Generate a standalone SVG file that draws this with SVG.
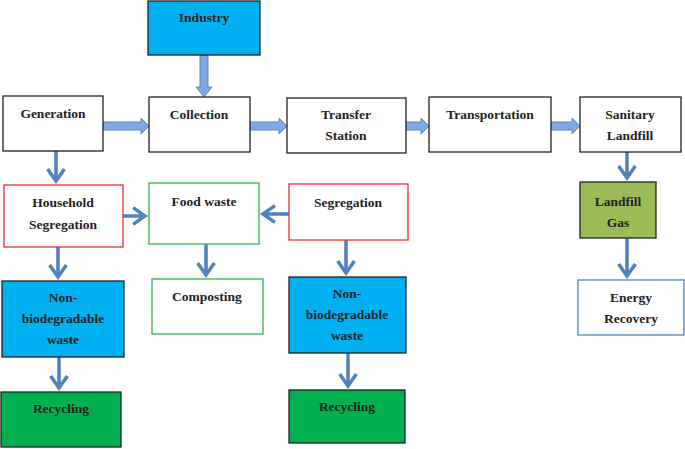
<svg xmlns="http://www.w3.org/2000/svg" width="685" height="449" viewBox="0 0 685 449">
<style>
text{font-family:"Liberation Serif","Times New Roman",serif;font-size:13.5px;font-weight:bold;fill:#222;text-anchor:middle}
.b{fill:#fff;stroke:#222;stroke-width:1.3}
.r{fill:#fff;stroke:#e83030;stroke-width:1.3}
.g{fill:#fff;stroke:#2fb34a;stroke-width:1.3}
.bl{fill:#00b0f0;stroke:#222;stroke-width:1.3}
.gr{fill:#00b050;stroke:#222;stroke-width:1.3}
.ol{fill:#9bbb59;stroke:#222;stroke-width:1.3}
.eb{fill:#fff;stroke:#4a86c8;stroke-width:1.3}
.ba{fill:#7fa9e0;stroke:#5a86c4;stroke-width:1}
.la{stroke:#4f81bd;stroke-width:3.5;fill:none}
</style>
<defs>
<marker id="h" markerWidth="6" markerHeight="6" refX="4" refY="3" orient="auto" markerUnits="strokeWidth"><path d="M0.6,0.6 L4,3 L0.6,5.4" fill="none" stroke="#4f81bd" stroke-width="1"/></marker>
</defs>
<g id="connectors">
<path class="ba" d="M200,55 h8 v32 h4 l-8,10 l-8,-10 h4 z"/>
<path class="ba" d="M103,122 h38 v-4 l8,8 l-8,8 v-4 h-38 z"/>
<path class="ba" d="M250,122 h29 v-4 l8,8 l-8,8 v-4 h-29 z"/>
<path class="ba" d="M406,122 h15 v-4 l8,8 l-8,8 v-4 h-15 z"/>
<path class="ba" d="M551,122 h21 v-4 l8,8 l-8,8 v-4 h-21 z"/>
<line class="la" x1="56" y1="151" x2="56" y2="181" marker-end="url(#h)"/>
<line class="la" x1="123" y1="216" x2="145" y2="216" marker-end="url(#h)"/>
<line class="la" x1="289" y1="214" x2="263" y2="214" marker-end="url(#h)"/>
<line class="la" x1="58" y1="247" x2="58" y2="277" marker-end="url(#h)"/>
<line class="la" x1="206" y1="244" x2="206" y2="275" marker-end="url(#h)"/>
<line class="la" x1="346" y1="240" x2="346" y2="273" marker-end="url(#h)"/>
<line class="la" x1="59" y1="357" x2="59" y2="388" marker-end="url(#h)"/>
<line class="la" x1="348" y1="353" x2="348" y2="386" marker-end="url(#h)"/>
<line class="la" x1="627" y1="152" x2="627" y2="178" marker-end="url(#h)"/>
<line class="la" x1="627" y1="238" x2="627" y2="276" marker-end="url(#h)"/>
</g>
<g id="industry"><rect class="bl" x="148" y="1" width="112" height="54"/><text x="204" y="22">Industry</text></g>
<g id="generation"><rect class="b" x="3" y="96" width="100" height="55"/><text x="53" y="118">Generation</text></g>
<g id="collection"><rect class="b" x="149" y="97" width="101" height="55"/><text x="199" y="119">Collection</text></g>
<g id="transfer"><rect class="b" x="287" y="98" width="119" height="55"/><text x="346" y="119">Transfer</text><text x="346" y="140">Station</text></g>
<g id="transportation"><rect class="b" x="429" y="97" width="122" height="55"/><text x="490" y="119">Transportation</text></g>
<g id="sanitary"><rect class="b" x="580" y="97" width="101" height="55"/><text x="630" y="119">Sanitary</text><text x="630" y="140">Landfill</text></g>
<g id="household"><rect class="r" x="4" y="185" width="119" height="62"/><text x="63" y="207">Household</text><text x="63" y="229">Segregation</text></g>
<g id="foodwaste"><rect class="g" x="149" y="183" width="110" height="61"/><text x="204" y="206">Food waste</text></g>
<g id="segregation"><rect class="r" x="289" y="184" width="119" height="56"/><text x="348" y="207">Segregation</text></g>
<g id="landfillgas"><rect class="ol" x="580" y="182" width="76" height="56"/><text x="618" y="206">Landfill</text><text x="618" y="227">Gas</text></g>
<g id="nonbio1"><rect class="bl" x="2" y="281" width="122" height="76"/><text x="63" y="302">Non-</text><text x="63" y="323">biodegradable</text><text x="63" y="344">waste</text></g>
<g id="composting"><rect class="g" x="152" y="279" width="111" height="55"/><text x="207" y="301">Composting</text></g>
<g id="nonbio2"><rect class="bl" x="289" y="277" width="117" height="76"/><text x="347" y="298">Non-</text><text x="347" y="319">biodegradable</text><text x="347" y="340">waste</text></g>
<g id="energy"><rect class="eb" x="578" y="280" width="106" height="55"/><text x="631" y="302">Energy</text><text x="631" y="323">Recovery</text></g>
<g id="recycling1"><rect class="gr" x="1" y="392" width="120" height="55"/><text x="61" y="413">Recycling</text></g>
<g id="recycling2"><rect class="gr" x="289" y="390" width="116" height="53"/><text x="347" y="411">Recycling</text></g>
</svg>
